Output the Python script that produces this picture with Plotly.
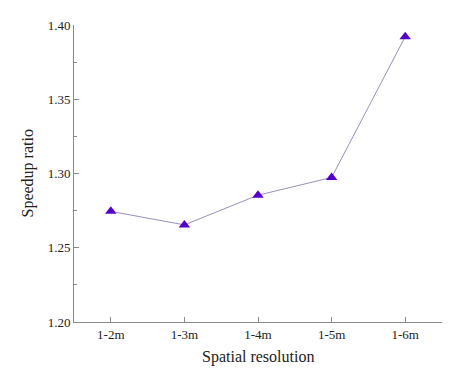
import plotly.graph_objects as go

categories = ["1-2m", "1-3m", "1-4m", "1-5m", "1-6m"]
speedup = [1.2745, 1.2654, 1.2854, 1.2973, 1.3921]
y_ticks = [1.20, 1.25, 1.30, 1.35, 1.40]
y_tick_labels = ["1.20", "1.25", "1.30", "1.35", "1.40"]

font_family = "Liberation Serif, Times New Roman, serif"

fig = go.Figure()
fig.add_trace(go.Scatter(
    x=list(range(len(categories))), y=speedup, mode="lines+markers",
    line=dict(color="#9d8fba", width=1),
    marker=dict(symbol="triangle-up", size=10, color="#5500c8"),
    showlegend=False,
))

fig.update_layout(
    width=466, height=367,
    margin=dict(l=66, r=32, t=17, b=53),
    paper_bgcolor="white", plot_bgcolor="white",
    font=dict(family=font_family, size=13, color="#222"),
    xaxis=dict(
        range=[-0.5, 4.5], tickvals=list(range(len(categories))), ticktext=categories,
        showline=True, linecolor="#8a8a8a", linewidth=1,
        ticks="inside", ticklen=5, tickcolor="#8a8a8a",
        showgrid=False, zeroline=False, automargin=False,
    ),
    yaxis=dict(
        range=[1.20, 1.40], tickvals=y_ticks, ticktext=y_tick_labels,
        showline=True, linecolor="#8a8a8a", linewidth=1,
        ticks="inside", ticklen=5, tickcolor="#8a8a8a",
        minor=dict(dtick=0.025, ticks="inside", ticklen=3, tickcolor="#8a8a8a"),
        showgrid=False, zeroline=False, automargin=False,
    ),
    annotations=[
        dict(text="Spatial resolution", xref="paper", yref="paper", x=0.5, y=0,
             xanchor="center", yanchor="middle", yshift=-35, showarrow=False,
             font=dict(size=16)),
        dict(text="Speedup ratio", xref="paper", yref="paper", x=0, y=0.5,
             xanchor="center", yanchor="middle", xshift=-47, textangle=-90,
             showarrow=False, font=dict(size=16)),
    ],
)

fig.write_html("out.html")
